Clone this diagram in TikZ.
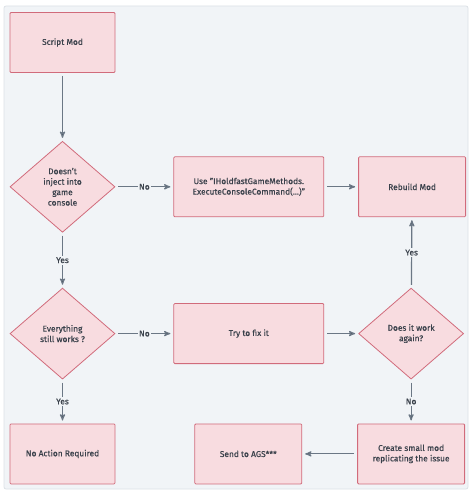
\documentclass[tikz,border=0pt]{standalone}
\usepackage{fontspec}
\setmainfont{Fira Sans}[UprightFeatures={FakeBold=0.5}]
\usetikzlibrary{arrows,positioning,shapes.geometric}

\definecolor{panelfill}{HTML}{F1F4F7}
\definecolor{panelline}{HTML}{DCE1E6}
\definecolor{boxfill}{HTML}{F8DCE0}
\definecolor{boxline}{HTML}{D16B7B}
\definecolor{arrowgray}{HTML}{6B7785}
\definecolor{txt}{HTML}{3A414B}

\tikzset{
  box/.style={rectangle,draw=boxline,fill=boxfill,line width=0.8pt,rounded corners=1pt,
    minimum width=105bp,minimum height=60bp,align=center,text=txt,font=\fontsize{8.4}{10.5}\selectfont},
  decision/.style={diamond,draw=boxline,fill=boxfill,line width=0.8pt,inner sep=0pt,
    minimum width=105bp,minimum height=91bp,align=center,text=txt,font=\fontsize{8.4}{10.5}\selectfont},
  flow/.style={->,draw=arrowgray,line width=1.2pt,shorten >=3bp,shorten <=3bp},
  lbl/.style={fill=panelfill,text=txt,inner sep=1.5pt,font=\fontsize{8.4}{10.5}\selectfont}
}

\begin{document}
\begin{tikzpicture}[>=stealth',x=1bp,y=1bp]

            \useasboundingbox (0,0) rectangle (474,-494);
            \draw[fill=panelfill,draw=panelline,line width=0.8pt,rounded corners=2pt] (4,-6) rectangle (468,-489);

            \node[box] (script) at (62.5,-42.5) {Script Mod};

            \node[decision] (inject) [below=68bp of script] {Doesn't\\inject into\\game\\console};

            \node[box,minimum width=150bp] (console) [right=58bp of inject] {Use "IHoldfastGameMethods.\\ExecuteConsoleCommand(...)"};

            \node[box,minimum width=107bp] (rebuild) [right=34bp of console] {Rebuild Mod};

            \node[decision] (works) [below=55bp of inject] {Everything\\still works ?};

            \node[box,minimum width=150bp] (fix) [right=58bp of works] {Try to fix it};

            \node[decision] (again) [right=34bp of fix] {Does it work\\again?};

            \node[box] (noaction) [below=44bp of works] {No Action Required};

            \node[box,minimum width=107bp] (small) [below=44bp of again] {Create small mod\\replicating the issue};

            \node[box,minimum width=107bp] (send) [left=55bp of small] {Send to AGS***};

            

            \path[flow] (script) edge (inject)

                        (inject) edge node[lbl] {No} (console)

                                 edge node[lbl] {Yes} (works)

                        (console) edge (rebuild)

                        (works) edge node[lbl] {No} (fix)

                                edge node[lbl] {Yes} (noaction)

                        (fix) edge (again)

                        (again) edge node[lbl] {Yes} (rebuild)

                                edge node[lbl] {No} (small)

                        (small) edge (send);

        \end{tikzpicture}
\end{document}
